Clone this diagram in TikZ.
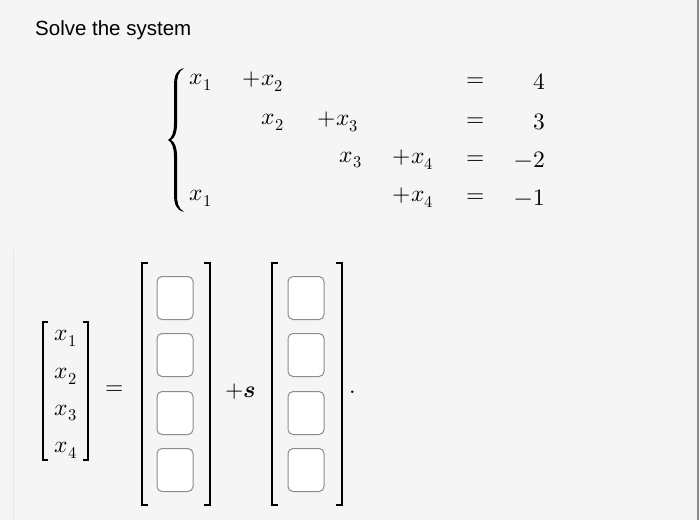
\documentclass[tikz,border=0pt]{standalone}
\usepackage{fontspec}
\setmainfont{Liberation Sans}
\usepackage{unicode-math}
\begin{document}
\begin{tikzpicture}[x=1pt,y=-1pt,
  mt/.style={font=\fontsize{23.5}{27}\selectfont, inner sep=0pt},
  blank/.style={draw=black!45, line width=1pt, fill=white, rounded corners=5pt, minimum width=36pt, minimum height=43pt, inner sep=0pt},
  brk/.style={line width=1.4pt}]
\fill[black!4] (0,0) rectangle (700,520);
\useasboundingbox (0,0) rectangle (700,520);
\draw[black!10, line width=1pt] (13,250) -- (13,520);
\draw[black!45, line width=2pt] (698,0) -- (698,520);
\node[anchor=west, font=\fontsize{20.5}{23}\selectfont, inner sep=0pt] (title) at (35,30) {Solve the system};
% brace
\coordinate (bt) at (184,68);
\fill (184,68) .. controls (176,70) and (174,76) .. (174,86) -- (174,124)
  .. controls (174,132) and (172,138) .. (168,140)
  .. controls (172,142) and (174,148) .. (174,156) -- (174,194)
  .. controls (174,204) and (176,210) .. (184,212)
  .. controls (178,208) and (177,203) .. (177,194) -- (177,156)
  .. controls (177,148) and (175,142) .. (171,140)
  .. controls (175,138) and (177,132) .. (177,124) -- (177,86)
  .. controls (177,77) and (178,72) .. (184,68) -- cycle;
% row 1
\node[mt] (a11) at (201,82) {$x_1$};
\node[mt] (a12) at (263,82) {$+x_2$};
\node[mt] (e1) at (476,82) {$=$};
\node[mt,anchor=east] (r1) at (545,82) {$4$};
% row 2
\node[mt] (a22) at (273,122) {$x_2$};
\node[mt] (a23) at (338,122) {$+x_3$};
\node[mt] (e2) at (476,122) {$=$};
\node[mt,anchor=east] (r2) at (545,122) {$3$};
% row 3
\node[mt] (a33) at (351,160) {$x_3$};
\node[mt] (a34) at (413,160) {$+x_4$};
\node[mt] (e3) at (476,160) {$=$};
\node[mt,anchor=east] (r3) at (545,160) {$-2$};
% row 4
\node[mt] (a41) at (201,198) {$x_1$};
\node[mt] (a44) at (413,198) {$+x_4$};
\node[mt] (e4) at (476,198) {$=$};
\node[mt,anchor=east] (r4) at (545,198) {$-1$};
% left vector
\draw[brk] (48,322) -- (43,322) -- (43,460) -- (48,460);
\draw[brk] (83,322) -- (88,322) -- (88,460) -- (83,460);
\node[mt] (v1) at (66,338) {$x_1$};
\node[mt] (v2) at (66,376) {$x_2$};
\node[mt] (v3) at (66,413) {$x_3$};
\node[mt] (v4) at (66,450) {$x_4$};
\node[mt] (eq) at (115,390) {$=$};
% first bracket
\draw[brk] (148,263) -- (142,263) -- (142,505) -- (148,505);
\draw[brk] (204,263) -- (210,263) -- (210,505) -- (204,505);
\node[blank] (p1) at (175,298) {};
\node[blank] (p2) at (175,355) {};
\node[blank] (p3) at (175,413) {};
\node[blank] (p4) at (175,470) {};
\node[mt] (plus) at (241,392) {$+\symbfit{s}$};
% second bracket
\draw[brk] (278,263) -- (272,263) -- (272,505) -- (278,505);
\draw[brk] (336,263) -- (342,263) -- (342,505) -- (336,505);
\node[blank] (q1) at (306,298) {};
\node[blank] (q2) at (306,355) {};
\node[blank] (q3) at (306,413) {};
\node[blank] (q4) at (306,470) {};
\node[mt] (dot) at (353,392) {$.$};
\end{tikzpicture}
\end{document}
